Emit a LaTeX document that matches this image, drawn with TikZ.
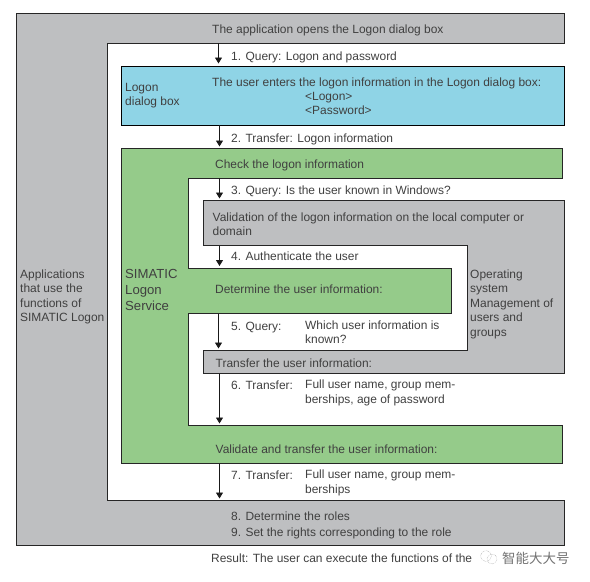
\documentclass[tikz,border=0pt]{standalone}
\usepackage{fontspec}
\setmainfont{Liberation Sans}
\newfontfamily\cjk{Noto Sans CJK SC}
\usetikzlibrary{arrows.meta}
\begin{document}
\begin{tikzpicture}
      [x=1bp,y=-1bp
      ,filgray/.style={fill=gray1,draw=black!85,line width=.7pt}
      ,filblue/.style={fill=blue1,draw=black,line width=.7pt}
      ,filgreen/.style={fill=green1,draw=black!85,line width=.7pt}
      ,arr/.style={-{Triangle[length=6pt,width=7pt]},line width=.9pt,color=black!90}
      ,lbl/.style={inner sep=0pt,anchor=north west,align=left,color=black!75,
                   font=\fontsize{12}{14.5}\selectfont,yshift=8.37bp,execute at begin node=\strut}
      ,biglbl/.style={lbl,font=\fontsize{13.2}{16.5}\selectfont}
      ]
        \definecolor{gray1}{HTML}{BEBFC1}
        \definecolor{blue1}{HTML}{8FD4E6}
        \definecolor{green1}{HTML}{95CB8A}
        \useasboundingbox (0,0) rectangle (590,582);
        % boxes
        \draw[filgray] (16,13.5) -- (564,13.5) -- (564,43.5) -- (107.5,43.5) -- (107.5,500.5) -- (564,500.5) -- (564,545.5) -- (16,545.5) -- cycle;
        \draw[filblue] (121.5,66.5) rectangle (564,125.5);
        \draw[filgreen] (121.5,148.5) -- (562.5,148.5) -- (562.5,178) -- (188.5,178) -- (188.5,268) -- (451.5,268) -- (451.5,313.5) -- (188.5,313.5) -- (188.5,425.5) -- (562.5,425.5) -- (562.5,463.5) -- (121.5,463.5) -- cycle;
        \draw[filgray] (203.5,200.5) -- (564,200.5) -- (564,373.5) -- (203.5,373.5) -- (203.5,350.5) -- (467.5,350.5) -- (467.5,245.5) -- (203.5,245.5) -- cycle;
        % arrows
        \coordinate (q1a) at (218.5,43.5);   \coordinate (q1b) at (218.5,63.5);
        \coordinate (t2a) at (219.5,125.5);  \coordinate (t2b) at (219.5,146.5);
        \coordinate (q3a) at (219.5,178);    \coordinate (q3b) at (219.5,198.5);
        \coordinate (a4a) at (219.5,245.5);  \coordinate (a4b) at (219.5,266);
        \coordinate (q5a) at (218.5,313.5);  \coordinate (q5b) at (218.5,348.5);
        \coordinate (t6a) at (219.5,373.5);  \coordinate (t6b) at (219.5,423.5);
        \coordinate (t7a) at (219.5,463.5);  \coordinate (t7b) at (219.5,498.5);
        \foreach \i in {q1,t2,q3,a4,q5,t6,t7}{
          \draw[arr] (\i a) -- (\i b);
        }
        % texts
        \node[lbl] (opens) at (212,31.5) {The application opens the Logon dialog box};
        \node[lbl] (query1) at (231,58.5) {1. Query: Logon and password};
        \node[lbl] (dialog) at (125,91.5) {Logon\\dialog box};
        \node[lbl] (enters) at (212,84.5) {The user enters the logon information in the Logon dialog box:};
        \node[lbl] (fields) at (305,100.5) {<Logon>\\<Password>};
        \node[lbl] (trans2) at (231,140.5) {2. Transfer: Logon information};
        \node[lbl] (check) at (215,167) {Check the logon information};
        \node[lbl] (query3) at (231,193) {3. Query: Is the user known in Windows?};
        \node[lbl] (valid) at (212.5,221) {Validation of the logon information on the local computer or\\domain};
        \node[lbl] (auth4) at (231,259) {4. Authenticate the user};
        \node[lbl] (apps) at (20,278) {Applications\\that use the\\functions of\\SIMATIC Logon};
        \node[biglbl] (service) at (125,277) {SIMATIC\\Logon\\Service};
        \node[lbl] (opsys) at (470,278) {Operating\\system\\Management of\\users and\\groups};
        \node[lbl] (determ) at (215,291.5) {Determine the user information:};
        \node[lbl] (query5) at (231,329) {5. Query:};
        \node[lbl] (which) at (305,329) {Which user information is\\known?};
        \node[lbl] (transu) at (215.5,366) {Transfer the user information:};
        \node[lbl] (trans6) at (231,388) {6. Transfer:};
        \node[lbl] (full6) at (305,388.5) {Full user name, group mem-\\berships, age of password};
        \node[lbl] (validt) at (215.5,452) {Validate and transfer the user information:};
        \node[lbl] (trans7) at (231,478) {7. Transfer:};
        \node[lbl] (full7) at (305,478.5) {Full user name, group mem-\\berships};
        \node[lbl] (roles) at (231,519) {8. Determine the roles};
        \node[lbl] (rights) at (231,535) {9. Set the rights corresponding to the role};
        \node[lbl] (result) at (211,560.5) {Result: The user can execute the functions of the};
        % watermark
        \fill[white] (476,548) rectangle (590,572);
        \node[lbl,color=black!55,font=\cjk\fontsize{13.5}{14.5}\selectfont] (mark) at (502,560) {智能大大号};
        \draw[black!45,densely dotted] (486,556) circle (5.5);
        \draw[black!45,densely dotted] (492,559) circle (5);
\end{tikzpicture}
\end{document}
